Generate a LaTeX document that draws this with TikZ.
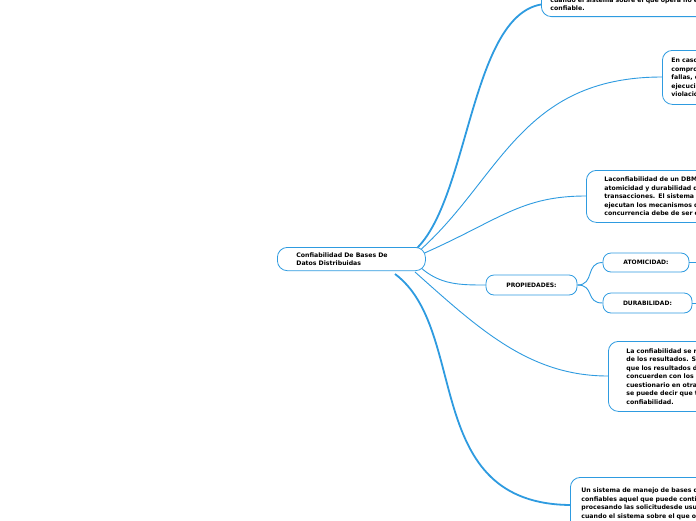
\documentclass[tikz,border=0pt]{standalone}
\usepackage{fontspec}
\setmainfont{DejaVu Sans}
\begin{document}
\begin{tikzpicture}[x=1pt,y=-1pt,
  box/.style={draw=lbl, line width=0.8pt, rounded corners=10pt, fill=white, anchor=north west, align=left, inner xsep=9pt, inner ysep=6pt, font=\bfseries\fontsize{6.2}{8.5}\selectfont},
  lnk/.style={draw=lbl, line width=0.9pt},
  thk/.style={draw=lbl, line width=1.8pt}]
\definecolor{lbl}{HTML}{2E9BE0}
\useasboundingbox (0,0) rectangle (696,520);
\clip (0,0) rectangle (696,520);
\fill[white] (0,0) rectangle (696,520);
\draw[thk] (415,250) .. controls (470,200) and (470,10) .. (545,4);
\draw[lnk] (418,252) .. controls (500,180) and (520,77) .. (662,77);
\draw[lnk] (420,255) .. controls (500,220) and (520,196) .. (586,196);
\draw[lnk] (420,267) .. controls (440,285) and (460,285) .. (486,285);
\draw[thk] (395,274) .. controls (470,330) and (420,505) .. (572,505);
\draw[lnk] (415,272) .. controls (480,330) and (530,376) .. (608,376);
% nodes
\node[box, text width=220pt, anchor=south west] (t) at (541,17) {Un sistema de manejo de bases de datos\\confiables aquel que puede continuar\\procesando las solicitudesde usuario aun\\cuando el sistema sobre el que opera no es\\confiable.};
\node[box, text width=220pt, minimum height=54pt] (b2) at (662,50) {En caso de que una transacci\'on\\comprometida no finalice por\\fallas, o no se termine la\\ejecuci\'on, se produce una\\violaci\'on de la consistencia.};
\node[box, text width=220pt, minimum height=52pt, inner xsep=18pt] (b3) at (586,170) {Laconfiabilidad de un DBMS distribuido incluye\\atomicidad y durabilidad de las\\transacciones. El sistema y los protocolos que\\ejecutan los mecanismos de control de\\concurrencia debe de ser confiable.};
\node[box, text width=110pt, inner xsep=19pt, inner ysep=5pt] (c) at (277,247) {Confiabilidad De Bases De\\Datos Distribuidas};
\node[box, anchor=center, rounded corners=8pt, inner sep=5pt, minimum width=91pt, minimum height=20pt, align=center, font=\bfseries\fontsize{6}{7}\selectfont] (p) at (531.5,285) {PROPIEDADES:};
\node[box, anchor=center, rounded corners=8pt, inner sep=5pt, minimum width=86pt, minimum height=19pt, align=center, font=\bfseries\fontsize{6}{7}\selectfont] (a) at (646,262.5) {ATOMICIDAD:};
\node[box, anchor=center, rounded corners=8pt, inner sep=5pt, minimum width=89pt, minimum height=20pt, align=center, font=\bfseries\fontsize{6}{7}\selectfont] (d) at (647.5,303) {DURABILIDAD:};
\coordinate (ae) at (700,262.5);
\coordinate (de) at (700,303);
\draw[lnk] (p.east) .. controls (595,285) and (585,262.5) .. (a.west);
\draw[lnk] (p.east) .. controls (595,285) and (585,303) .. (d.west);
\draw[lnk] (a.east) -- (ae);
\draw[lnk] (d.east) -- (de);
\node[box, text width=220pt, minimum height=70pt, inner xsep=18pt] (b7) at (608,341) {La confiabilidad se refiere a la consistencia\\de los resultados. Se busca\\que los resultados de un test\\concuerden con los de un\\cuestionario en otra ocasi\'on,\\se puede decir que tiene\\confiabilidad.};
\node[box, text width=220pt, minimum height=60pt, inner xsep=11pt] (b8) at (570,477) {Un sistema de manejo de bases de datos\\confiables aquel que puede continuar\\procesando las solicitudesde usuario aun\\cuando el sistema sobre el que opera no es\\confiable.};
\end{tikzpicture}
\end{document}
